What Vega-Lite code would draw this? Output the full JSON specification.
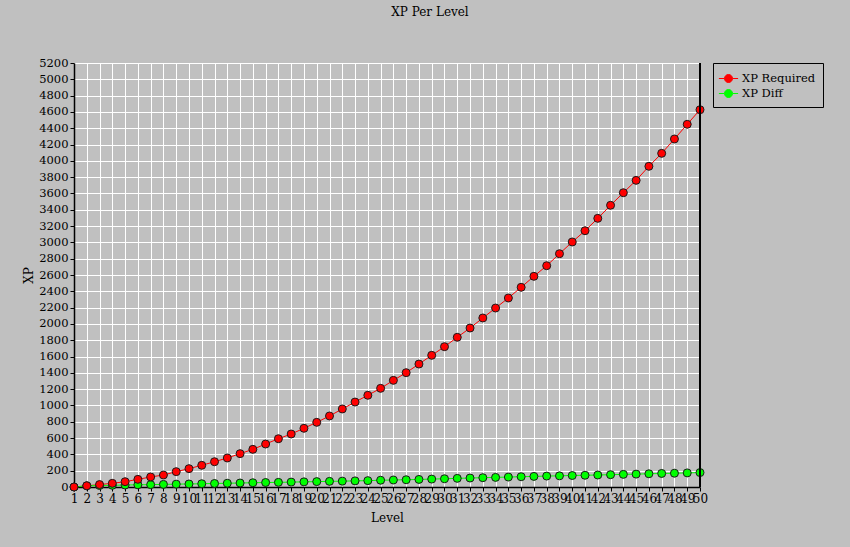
{
  "$schema": "https://vega.github.io/schema/vega-lite/v6.json",
  "width": 626,
  "height": 424,
  "autosize": {"type": "none"},
  "padding": {"left": 74, "top": 63, "right": 150, "bottom": 60},
  "background": "#C0C0C0",
  "title": {"text": "XP Per Level", "font": "DejaVu Serif", "fontSize": 12, "fontWeight": "normal", "color": "#000000", "offset": 38, "dx": 43, "anchor": "middle"},
  "config": {
    "view": {"stroke": null, "fill": "#C0C0C0"},
    "axis": {
      "grid": true, "gridColor": "#FFFFFF", "gridWidth": 1, "gridOpacity": 1,
      "domainColor": "#000000", "domainWidth": 1.5,
      "tickColor": "#000000", "tickSize": 4, "tickWidth": 1,
      "labelFont": "DejaVu Serif", "labelFontSize": 11, "labelColor": "#000000",
      "labelFlush": false, "labelOverlap": false, "labelBound": false,
      "titleFont": "DejaVu Serif", "titleFontSize": 12, "titleFontWeight": "normal", "titleColor": "#000000"
    }
  },
  "data": {"values": [
    {"level": 1, "XP Required": 0, "XP Diff": 0},
    {"level": 2, "XP Required": 15, "XP Diff": 15},
    {"level": 3, "XP Required": 30, "XP Diff": 18},
    {"level": 4, "XP Required": 45, "XP Diff": 21},
    {"level": 5, "XP Required": 65, "XP Diff": 24},
    {"level": 6, "XP Required": 94, "XP Diff": 27},
    {"level": 7, "XP Required": 123, "XP Diff": 29},
    {"level": 8, "XP Required": 147, "XP Diff": 32},
    {"level": 9, "XP Required": 188, "XP Diff": 35},
    {"level": 10, "XP Required": 225, "XP Diff": 37},
    {"level": 11, "XP Required": 266, "XP Diff": 40},
    {"level": 12, "XP Required": 310, "XP Diff": 43},
    {"level": 13, "XP Required": 356, "XP Diff": 46},
    {"level": 14, "XP Required": 409, "XP Diff": 49},
    {"level": 15, "XP Required": 462, "XP Diff": 52},
    {"level": 16, "XP Required": 527, "XP Diff": 55},
    {"level": 17, "XP Required": 592, "XP Diff": 57},
    {"level": 18, "XP Required": 650, "XP Diff": 60},
    {"level": 19, "XP Required": 720, "XP Diff": 63},
    {"level": 20, "XP Required": 793, "XP Diff": 66},
    {"level": 21, "XP Required": 871, "XP Diff": 69},
    {"level": 22, "XP Required": 957, "XP Diff": 72},
    {"level": 23, "XP Required": 1042, "XP Diff": 75},
    {"level": 24, "XP Required": 1125, "XP Diff": 78},
    {"level": 25, "XP Required": 1210, "XP Diff": 83},
    {"level": 26, "XP Required": 1308, "XP Diff": 86},
    {"level": 27, "XP Required": 1402, "XP Diff": 89},
    {"level": 28, "XP Required": 1508, "XP Diff": 93},
    {"level": 29, "XP Required": 1615, "XP Diff": 97},
    {"level": 30, "XP Required": 1721, "XP Diff": 101},
    {"level": 31, "XP Required": 1836, "XP Diff": 106},
    {"level": 32, "XP Required": 1950, "XP Diff": 110},
    {"level": 33, "XP Required": 2073, "XP Diff": 114},
    {"level": 34, "XP Required": 2195, "XP Diff": 118},
    {"level": 35, "XP Required": 2318, "XP Diff": 122},
    {"level": 36, "XP Required": 2449, "XP Diff": 126},
    {"level": 37, "XP Required": 2584, "XP Diff": 130},
    {"level": 38, "XP Required": 2714, "XP Diff": 134},
    {"level": 39, "XP Required": 2861, "XP Diff": 137},
    {"level": 40, "XP Required": 3005, "XP Diff": 141},
    {"level": 41, "XP Required": 3143, "XP Diff": 144},
    {"level": 42, "XP Required": 3295, "XP Diff": 147},
    {"level": 43, "XP Required": 3455, "XP Diff": 151},
    {"level": 44, "XP Required": 3609, "XP Diff": 155},
    {"level": 45, "XP Required": 3761, "XP Diff": 158},
    {"level": 46, "XP Required": 3933, "XP Diff": 162},
    {"level": 47, "XP Required": 4092, "XP Diff": 166},
    {"level": 48, "XP Required": 4268, "XP Diff": 169},
    {"level": 49, "XP Required": 4448, "XP Diff": 173},
    {"level": 50, "XP Required": 4627, "XP Diff": 177}
  ]},
  "transform": [{"fold": ["XP Required", "XP Diff"], "as": ["series", "xp"]}],
  "encoding": {
    "x": {
      "field": "level", "type": "quantitative",
      "scale": {"domain": [1, 50], "nice": false, "zero": false},
      "axis": {"title": "Level", "format": "d", "values": [1,2,3,4,5,6,7,8,9,10,11,12,13,14,15,16,17,18,19,20,21,22,23,24,25,26,27,28,29,30,31,32,33,34,35,36,37,38,39,40,41,42,43,44,45,46,47,48,49,50], "labelAngle": 0, "labelFontSize": 12, "titlePadding": 8}
    },
    "y": {
      "field": "xp", "type": "quantitative",
      "scale": {"domain": [0, 5200], "nice": false},
      "axis": {"title": "XP", "format": "d", "values": [0,200,400,600,800,1000,1200,1400,1600,1800,2000,2200,2400,2600,2800,3000,3200,3400,3600,3800,4000,4200,4400,4600,4800,5000,5200], "labelFontSize": 11.5, "titlePadding": 3}
    }
  },
  "layer": [
    {
      "mark": {"type": "line", "strokeWidth": 1},
      "encoding": {
        "color": {
          "field": "series", "type": "nominal",
          "scale": {"domain": ["XP Required", "XP Diff"], "range": ["#FF0000", "#00FF00"]},
          "legend": {
            "orient": "none", "legendX": 639, "legendY": 0, "title": null,
            "strokeColor": "#000000", "fillColor": "#C0C0C0", "padding": 7,
            "labelFont": "DejaVu Serif", "labelFontSize": 11.5, "labelColor": "#000000",
            "labelOffset": 5, "rowPadding": 0, "symbolSize": 256, "symbolStrokeWidth": 1,
            "symbolType": "M-1.2,0H-0.5M0.5,0H1.2M0.5,0A0.5,0.5,0,1,1,-0.5,0A0.5,0.5,0,1,1,0.5,0Z"
          }
        }
      }
    },
    {
      "mark": {"type": "point", "filled": true, "size": 64, "stroke": "#1a1a1a", "strokeWidth": 1, "opacity": 1},
      "encoding": {
        "color": {"field": "series", "type": "nominal"},
        "order": {"field": "series", "sort": "ascending"}
      }
    },
    {
      "mark": {"type": "rule", "color": "#000000", "strokeWidth": 1.5},
      "encoding": {"x": {"datum": 50}, "y": null}
    }
  ]
}
